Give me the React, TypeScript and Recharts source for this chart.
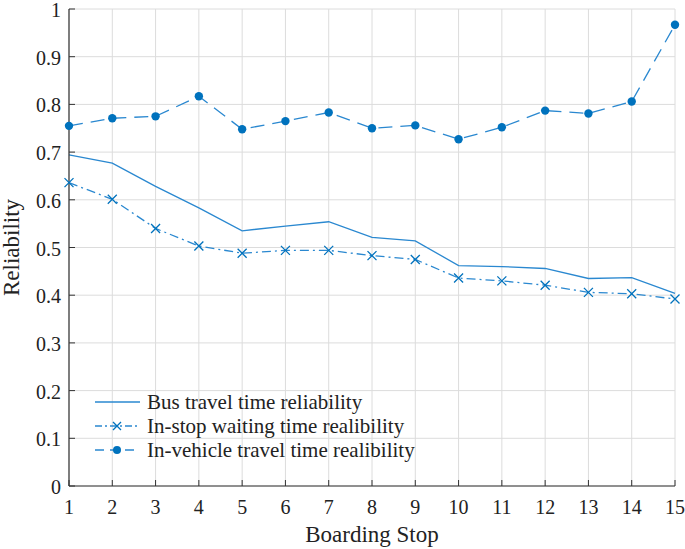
import React from "react";
import { LineChart, Line, XAxis, YAxis, CartesianGrid } from "recharts";

const stops = [1, 2, 3, 4, 5, 6, 7, 8, 9, 10, 11, 12, 13, 14, 15];
const busTravel = [0.694, 0.677, 0.628, 0.583, 0.535, 0.545, 0.554, 0.521, 0.514, 0.462, 0.46, 0.456, 0.435, 0.437, 0.404];
const inStop = [0.636, 0.601, 0.54, 0.503, 0.488, 0.494, 0.494, 0.483, 0.475, 0.436, 0.43, 0.421, 0.406, 0.403, 0.392];
const inVehicle = [0.755, 0.771, 0.775, 0.817, 0.748, 0.765, 0.783, 0.75, 0.756, 0.727, 0.752, 0.787, 0.781, 0.806, 0.967];
const xTicks = [1, 2, 3, 4, 5, 6, 7, 8, 9, 10, 11, 12, 13, 14, 15];
const yTicks = [0, 0.1, 0.2, 0.3, 0.4, 0.5, 0.6, 0.7, 0.8, 0.9, 1];
const seriesNames = [
  "Bus travel time reliability",
  "In-stop waiting time realibility",
  "In-vehicle travel time realibility",
];

const data = stops.map((s, i) => ({
  stop: s,
  bus: busTravel[i],
  instop: inStop[i],
  invehicle: inVehicle[i],
}));

const LINE = "#2a88d0";
const MARK = "#0072BD";
const FONT = "Liberation Serif, Times New Roman, serif";
const TXT = "#222";

const CrossDot = (props: any) => {
  const { cx, cy } = props;
  if (cx == null || cy == null) return null;
  const r = 4.5;
  return (
    <path
      d={`M${cx - r},${cy - r}L${cx + r},${cy + r}M${cx - r},${cy + r}L${cx + r},${cy - r}`}
      stroke={MARK}
      strokeWidth={1.3}
      fill="none"
    />
  );
};

const CircleDot = (props: any) => {
  const { cx, cy } = props;
  if (cx == null || cy == null) return null;
  return <circle cx={cx} cy={cy} r={4.2} fill={MARK} stroke="none" />;
};

const XTick = (props: any) => {
  const { x, payload } = props;
  return (
    <text x={x} y={514} textAnchor="middle" fill={TXT} style={{ fontFamily: FONT, fontSize: 20 }}>
      {payload.value}
    </text>
  );
};

const YTick = (props: any) => {
  const { y, payload } = props;
  const v = Math.round(payload.value * 10) / 10;
  return (
    <text x={61} y={y + 8} textAnchor="end" fill={TXT} style={{ fontFamily: FONT, fontSize: 20 }}>
      {String(v)}
    </text>
  );
};

const LegendBox = () => {
  const rows = [
    { dash: undefined as string | undefined, marker: "" },
    { dash: "7 3 2 3", marker: "x" },
    { dash: "9 6", marker: "o" },
  ];
  return (
    <div
      style={{
        position: "absolute",
        left: 94,
        top: 390,
        fontFamily: FONT,
        fontSize: 21,
        color: TXT,
        lineHeight: "24px",
      }}
    >
      {rows.map((r, i) => (
        <div key={i} style={{ display: "flex", alignItems: "center", height: 24 }}>
          <svg width={48} height={16} style={{ marginRight: 5 }}>
            <line x1={1} y1={8} x2={46} y2={8} stroke={LINE} strokeWidth={1.3} strokeDasharray={r.dash} />
            {r.marker === "x" && <path d="M19,4L27,12M19,12L27,4" stroke={MARK} strokeWidth={1.3} />}
            {r.marker === "o" && <circle cx={23} cy={8} r={4} fill={MARK} />}
          </svg>
          <span style={{ whiteSpace: "nowrap" }}>{seriesNames[i]}</span>
        </div>
      ))}
    </div>
  );
};

export default function App() {
  return (
    <div style={{ position: "absolute", left: 0, top: 0, width: 685, height: 549, background: "#fff", fontFamily: FONT }}>
      <LineChart
        width={685}
        height={549}
        data={data}
        margin={{ top: 9, right: 10, bottom: 0, left: 0 }}
        style={{ fontFamily: FONT }}
      >
        <CartesianGrid stroke="#dcdcdc" strokeWidth={1} />
        <XAxis
          dataKey="stop"
          type="number"
          domain={[1, 15]}
          ticks={xTicks}
          interval={0}
          height={63}
          tickSize={6}
          tickLine={{ stroke: "#333", transform: "translate(0,-6)" }}
          axisLine={{ stroke: "#333", strokeWidth: 1.2 }}
          tick={<XTick />}
          label={{
            value: "Boarding Stop",
            position: "insideBottom",
            offset: 7,
            fill: TXT,
            fontSize: 23,
            fontFamily: FONT,
            style: { fontFamily: FONT, fontSize: 23 },
          }}
        />
        <YAxis
          type="number"
          domain={[0, 1]}
          ticks={yTicks}
          interval={0}
          width={69}
          tickSize={6}
          tickLine={{ stroke: "#333", transform: "translate(6,0)" }}
          axisLine={{ stroke: "#333", strokeWidth: 1.2 }}
          tick={<YTick />}
          label={{
            value: "Reliability",
            angle: -90,
            position: "insideLeft",
            offset: 0,
            dx: 11,
            fill: TXT,
            fontSize: 23,
            fontFamily: FONT,
            style: { textAnchor: "middle", fontFamily: FONT, fontSize: 23 },
          }}
        />
        <Line
          dataKey="bus"
          name={seriesNames[0]}
          stroke={LINE}
          strokeWidth={1.3}
          dot={false}
          activeDot={false}
          isAnimationActive={false}
        />
        <Line
          dataKey="instop"
          name={seriesNames[1]}
          stroke={LINE}
          strokeWidth={1.3}
          strokeDasharray="9 4 2 4"
          dot={<CrossDot />}
          activeDot={false}
          isAnimationActive={false}
        />
        <Line
          dataKey="invehicle"
          name={seriesNames[2]}
          stroke={LINE}
          strokeWidth={1.3}
          strokeDasharray="14 8"
          dot={<CircleDot />}
          activeDot={false}
          isAnimationActive={false}
        />
      </LineChart>
      <LegendBox />
    </div>
  );
}
